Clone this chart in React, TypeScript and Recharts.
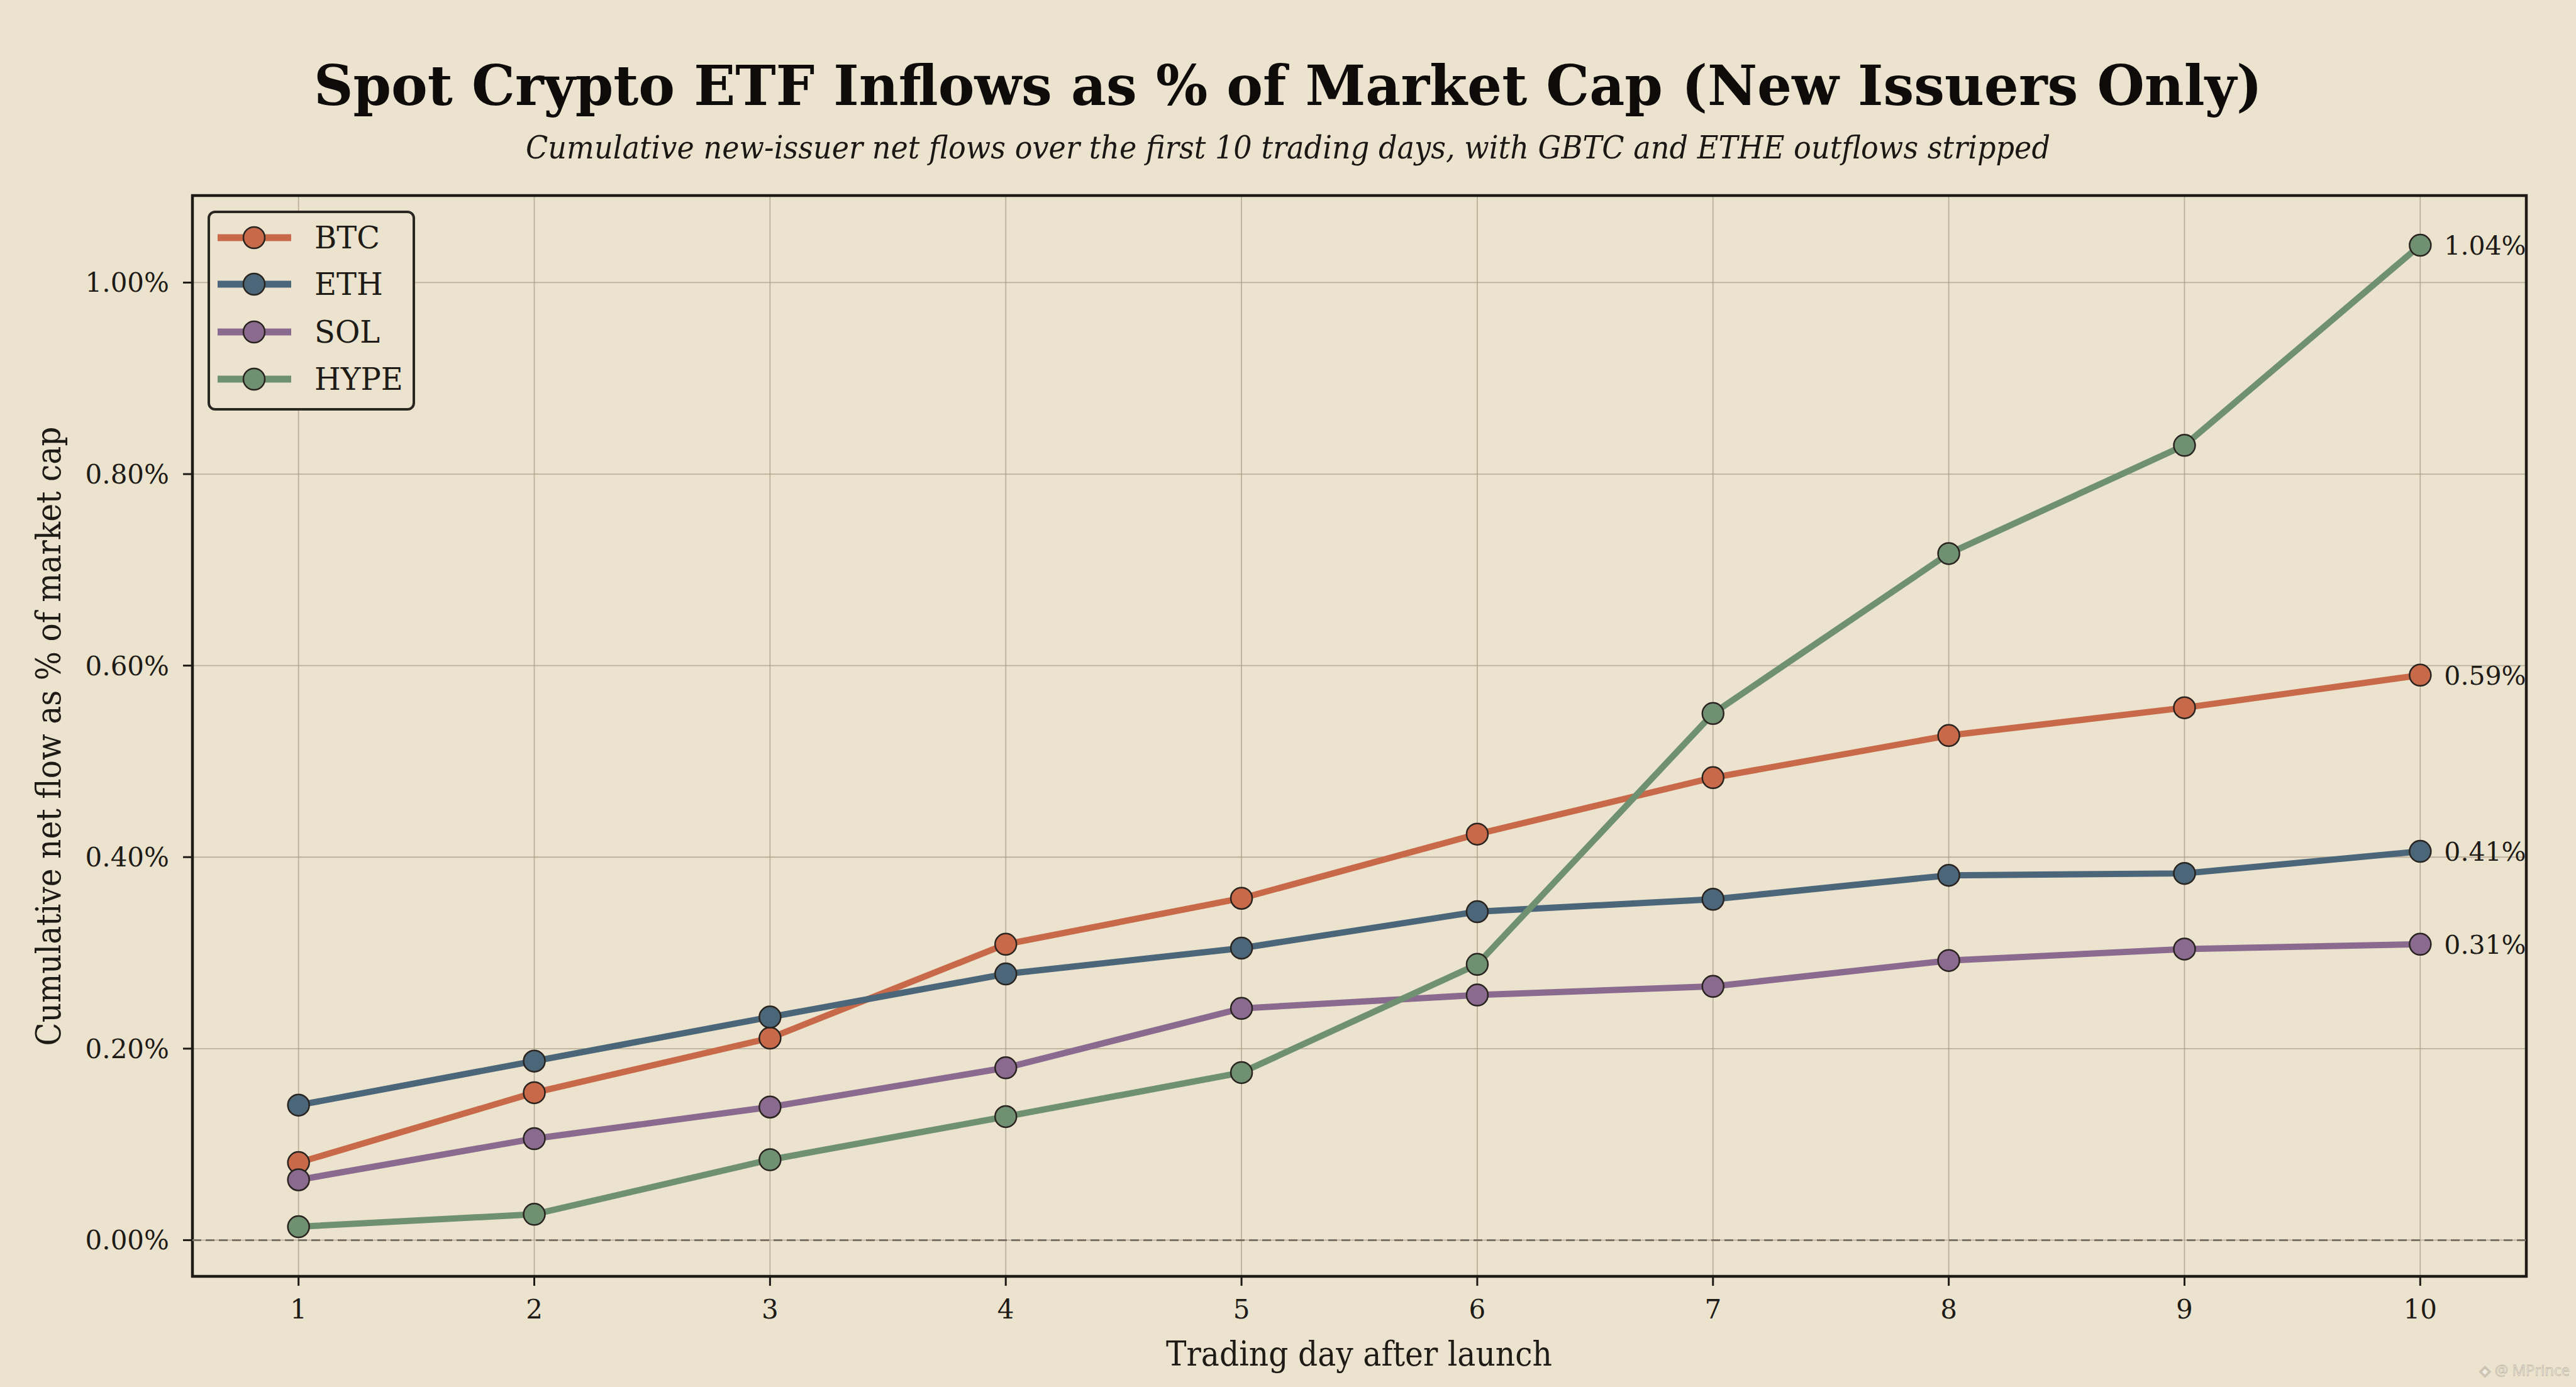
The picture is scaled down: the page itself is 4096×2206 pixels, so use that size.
import React from 'react';
import {
  LineChart,
  Line,
  XAxis,
  YAxis,
  CartesianGrid,
  ReferenceLine,
  ReferenceArea,
  Legend,
} from 'recharts';

// ---- data ----
const DAYS = [1, 2, 3, 4, 5, 6, 7, 8, 9, 10];
const BTC = [0.081, 0.154, 0.211, 0.309, 0.357, 0.424, 0.483, 0.527, 0.556, 0.59];
const ETH = [0.141, 0.187, 0.233, 0.278, 0.305, 0.343, 0.356, 0.381, 0.383, 0.406];
const SOL = [0.063, 0.106, 0.139, 0.18, 0.242, 0.256, 0.265, 0.292, 0.304, 0.309];
const HYPE = [0.014, 0.027, 0.084, 0.129, 0.175, 0.288, 0.55, 0.717, 0.83, 1.039];
const SERIES_NAMES = ['BTC', 'ETH', 'SOL', 'HYPE'];
const SERIES_COLORS = ['#C86A4A', '#4B6679', '#8A6A8E', '#6F9172'];
const X_TICKS = [1, 2, 3, 4, 5, 6, 7, 8, 9, 10];
const Y_TICKS = [0, 0.2, 0.4, 0.6, 0.8, 1.0];
const X_DOMAIN = [0.55, 10.45];
const Y_DOMAIN = [-0.0378, 1.0909];

const TITLE = 'Spot Crypto ETF Inflows as % of Market Cap (New Issuers Only)';
const SUBTITLE =
  'Cumulative new-issuer net flows over the first 10 trading days, with GBTC and ETHE outflows stripped';
const X_LABEL = 'Trading day after launch';
const Y_LABEL = 'Cumulative net flow as % of market cap';

const SERIES_VALUES = [BTC, ETH, SOL, HYPE];
const data = DAYS.map((d, i) => {
  const row: Record<string, number> = { day: d };
  SERIES_NAMES.forEach((n, k) => {
    row[n] = SERIES_VALUES[k][i];
  });
  return row;
});

// ---- styles ----
const W = 4096;
const H = 2206;
const BG = '#ECE3CE';
const INK = '#1E1B17';
const FONT = '"DejaVu Serif", Georgia, serif';

const LAST = DAYS.length - 1;

const endLabel = (props: any) => {
  const { x, y, index, value } = props;
  if (index !== LAST) return <g />;
  return (
    <text
      x={x + 38}
      y={y}
      dy={15}
      fontFamily={FONT}
      fontSize={41}
      fill={INK}
      textAnchor="start"
    >
      {Number(value).toFixed(2) + '%'}
    </text>
  );
};

const LegendBox = (props: any) => {
  const payload = [...(props.payload || [])].sort(
    (a: any, b: any) => SERIES_NAMES.indexOf(a.value) - SERIES_NAMES.indexOf(b.value)
  );
  const rows = [43, 117, 193, 268];
  return (
    <svg width={330} height={318} style={{ display: 'block' }}>
      <rect
        x={2}
        y={2}
        width={326}
        height={314}
        rx={10}
        ry={10}
        fill={BG}
        stroke="#2A2622"
        strokeWidth={4}
      />
      {payload.map((p: any, i: number) => (
        <g key={p.value}>
          <line
            x1={16}
            x2={133}
            y1={rows[i]}
            y2={rows[i]}
            stroke={p.color}
            strokeWidth={11}
          />
          <circle cx={74} cy={rows[i]} r={17} fill={p.color} stroke="#2A2420" strokeWidth={2.5} />
          <text
            x={170}
            y={rows[i]}
            dy={17}
            fontFamily={FONT}
            fontSize={48}
            fill={INK}
          >
            {p.value}
          </text>
        </g>
      ))}
    </svg>
  );
};

export default function App() {
  return (
    <div
      style={{
        position: 'absolute',
        left: 0,
        top: 0,
        width: W,
        height: H,
        background: BG,
        overflow: 'hidden',
      }}
    >
      <LineChart
        width={W}
        height={H}
        data={data}
        margin={{ top: 311, right: 79, bottom: 116, left: 186 }}
        style={{ position: 'absolute', left: 0, top: 0 }}
      >
        <CartesianGrid stroke="#A99F8A" strokeWidth={1.8} strokeOpacity={0.75} />
        <XAxis
          dataKey="day"
          type="number"
          domain={X_DOMAIN}
          ticks={X_TICKS}
          allowDataOverflow
          height={60}
          axisLine={false}
          tickSize={15}
          tickMargin={22}
          tickLine={{ stroke: INK, strokeWidth: 3 }}
          tick={{ fontFamily: FONT, fontSize: 42, fill: INK }}
          interval={0}
        />
        <YAxis
          type="number"
          domain={Y_DOMAIN}
          ticks={Y_TICKS}
          allowDataOverflow
          width={120}
          axisLine={false}
          tickSize={15}
          tickMargin={22}
          tickLine={{ stroke: INK, strokeWidth: 3 }}
          tick={{ fontFamily: FONT, fontSize: 42, fill: INK }}
          tickFormatter={(v: number) => v.toFixed(2) + '%'}
          interval={0}
        />
        <ReferenceLine y={0} stroke="#7A7366" strokeWidth={3} strokeDasharray="14 7" />
        {SERIES_NAMES.map((n, k) => (
          <Line
            key={n}
            dataKey={n}
            name={n}
            type="linear"
            stroke={SERIES_COLORS[k]}
            strokeWidth={10}
            isAnimationActive={false}
            dot={{ r: 17, fill: SERIES_COLORS[k], stroke: '#2A2420', strokeWidth: 2.5 }}
            activeDot={false}
            label={endLabel}
          />
        ))}
        <ReferenceArea
          x1={X_DOMAIN[0]}
          x2={X_DOMAIN[1]}
          y1={Y_DOMAIN[0]}
          y2={Y_DOMAIN[1]}
          fill="none"
          stroke={INK}
          strokeWidth={4.5}
          ifOverflow="visible"
        />
        <Legend
          layout="horizontal"
          verticalAlign="middle"
          align="center"
          itemSorter={null as any}
          content={<LegendBox />}
          wrapperStyle={{
            position: 'absolute',
            left: 330,
            top: 335,
            width: 330,
            height: 318,
            margin: 0,
            padding: 0,
            lineHeight: 0,
          }}
        />
      </LineChart>
      <svg
        width={W}
        height={H}
        style={{ position: 'absolute', left: 0, top: 0, pointerEvents: 'none' }}
      >
        <text
          x={2048}
          y={167}
          textAnchor="middle"
          fontFamily={FONT}
          fontWeight="bold"
          fontSize={88}
          fill="#0E0C0A"
          textLength={3098}
          lengthAdjust="spacingAndGlyphs"
        >
          {TITLE}
        </text>
        <text
          x={2048}
          y={252}
          textAnchor="middle"
          fontFamily={FONT}
          fontStyle="italic"
          fontSize={50}
          fill="#1A1714"
          textLength={2424}
          lengthAdjust="spacingAndGlyphs"
        >
          {SUBTITLE}
        </text>
        <text
          x={2161}
          y={2172}
          textAnchor="middle"
          fontFamily={FONT}
          fontSize={54}
          fill={INK}
          textLength={614}
          lengthAdjust="spacingAndGlyphs"
        >
          {X_LABEL}
        </text>
        <text
          x={96}
          y={1171}
          transform="rotate(-90 96 1171)"
          textAnchor="middle"
          fontFamily={FONT}
          fontSize={54}
          fill={INK}
          textLength={985}
          lengthAdjust="spacingAndGlyphs"
        >
          {Y_LABEL}
        </text>
        <text
          x={4086}
          y={2188}
          textAnchor="end"
          fontFamily='"Open Sans", sans-serif'
          fontSize={24}
          fill="#F3EEE4"
          stroke="#BDB5A4"
          strokeWidth={0.8}
        >
          {'◈ @ MPrince'}
        </text>
      </svg>
    </div>
  );
}
